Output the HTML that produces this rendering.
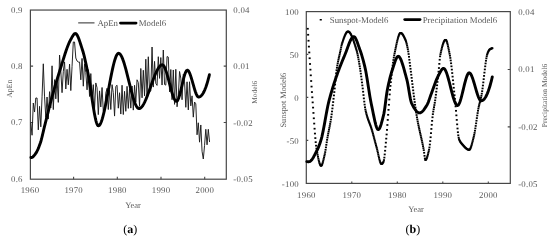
<!DOCTYPE html>
<html><head><meta charset="utf-8"><title>Figure</title>
<style>html,body{margin:0;padding:0;background:#fff;}svg{display:block;}</style>
</head><body>
<svg width="550" height="240" viewBox="0 0 550 240" text-rendering="geometricPrecision" font-family="'Liberation Serif', 'Times New Roman', serif" fill="#595959"><rect x="30.4" y="10.05" width="195.9" height="169.15" fill="none" stroke="#474747" stroke-width="1.2"/>
<path d="M73.6 179.2 V176.7 M117.3 179.2 V176.7 M161 179.2 V176.7 M204.7 179.2 V176.7 M30.4 122.52 H33.1 M30.4 66.13 H33.1 M226.3 122.52 H223.7 M226.3 66.13 H223.7" stroke="#474747" stroke-width="1.1" fill="none"/>
<text x="22.75" y="181.7" text-anchor="end" font-size="8.8" letter-spacing="0.25">0.6</text>
<text x="22.75" y="125.32" text-anchor="end" font-size="8.8" letter-spacing="0.25">0.7</text>
<text x="22.75" y="68.93" text-anchor="end" font-size="8.8" letter-spacing="0.25">0.8</text>
<text x="22.75" y="12.55" text-anchor="end" font-size="8.8" letter-spacing="0.25">0.9</text>
<text x="233.3" y="182.2" text-anchor="start" font-size="8.8" letter-spacing="0.25">-0.05</text>
<text x="233.3" y="125.82" text-anchor="start" font-size="8.8" letter-spacing="0.25">-0.02</text>
<text x="233.3" y="69.43" text-anchor="start" font-size="8.8" letter-spacing="0.25">0.01</text>
<text x="233.3" y="13.05" text-anchor="start" font-size="8.8" letter-spacing="0.25">0.04</text>
<text x="30.02" y="193" text-anchor="middle" font-size="8.8" letter-spacing="0.25">1960</text>
<text x="73.72" y="193" text-anchor="middle" font-size="8.8" letter-spacing="0.25">1970</text>
<text x="117.42" y="193" text-anchor="middle" font-size="8.8" letter-spacing="0.25">1980</text>
<text x="161.12" y="193" text-anchor="middle" font-size="8.8" letter-spacing="0.25">1990</text>
<text x="204.82" y="193" text-anchor="middle" font-size="8.8" letter-spacing="0.25">2000</text>
<text x="133" y="208" text-anchor="middle" font-size="8.5">Year</text>
<text transform="translate(11.6 88.7) rotate(-90)" text-anchor="middle" font-size="7.8">ApEn</text>
<text transform="translate(257.2 92.3) rotate(-90)" text-anchor="middle" font-size="7.3">Model6</text>
<path d="M30.8 122.45 L32.05 135.24 L33.3 103 L34.55 112.04 L35.8 98 L37.05 98 L38.3 129.87 L39.55 106.34 L40.8 126.88 L42.05 96.8 L43.3 63.8 L44.55 96.88 L45.8 117.51 L47.05 97.02 L48.3 119.09 L49.55 91.67 L50.8 107.92 L52.05 65.8 L53.3 109.58 L54.55 79.67 L55.8 98.84 L57.05 78.2 L58.3 102.39 L59.55 55 L60.8 71.22 L62.05 92.68 L63.3 71.27 L64.55 61.89 L65.8 89.01 L67.05 69.29 L68.3 84.85 L69.55 64.1 L70.8 90.59 L72.05 66.37 L73.3 42 L74.55 42 L75.8 58 L77.05 61 L78.3 62 L79.55 62 L80.8 79.82 L82.05 58.42 L83.3 86.19 L84.55 63.86 L85.8 72.38 L87.05 89.85 L88.3 69.68 L89.55 96.48 L90.8 73.59 L92.05 97.06 L93.3 84.65 L94.55 108.88 L95.8 82.95 L97.05 87.79 L98.3 114.63 L99.55 90.89 L100.8 106.98 L102.05 87.49 L103.3 111.18 L104.55 112.27 L105.8 93.23 L107.05 88.27 L108.3 109.52 L109.55 90.22 L110.8 109.47 L112.05 84.64 L113.3 92.62 L114.55 116.09 L115.8 86.4 L117.05 85.24 L118.3 108.19 L119.55 92.72 L120.8 114.05 L122.05 85.24 L123.3 114.53 L124.55 91.34 L125.8 111.3 L127.05 86.32 L128.3 108.42 L129.55 88.6 L130.8 108.12 L132.05 86.01 L133.3 110.11 L134.55 85.28 L135.8 102.04 L137.05 79.79 L138.3 82.53 L139.55 106.26 L140.8 68.47 L142.05 97.82 L143.3 70.25 L144.55 95.9 L145.8 59.19 L147.05 97.65 L148.3 56.75 L149.55 92.23 L150.8 90.65 L152.05 47 L153.3 87.09 L154.55 61.36 L155.8 83.43 L157.05 85.4 L158.3 56.71 L159.55 78.39 L160.8 57.54 L162.05 85.04 L163.3 50 L164.55 84.47 L165.8 85.1 L167.05 56.56 L168.3 57.1 L169.55 91.86 L170.8 69.53 L172.05 99.71 L173.3 69.97 L174.55 104.37 L175.8 69.29 L177.05 106.79 L178.3 95.9 L179.55 71.47 L180.8 78.14 L182.05 99.75 L183.3 74.33 L184.55 81.88 L185.8 107.31 L187.05 81.82 L188.3 109.93 L189.55 81.75 L190.8 105.88 L192.05 95.85 L193.3 117.15 L194.55 101.99 L195.8 103.8 L197.05 134.81 L198.3 122.79 L199.55 142.18 L200.8 124.97 L202.05 151.26 L203.3 159 L204.55 145.41 L205.8 129.26 L207.05 144.81 L208.3 129.31 L209.55 142.07" stroke="#1a1a1a" stroke-width="0.95" fill="none" stroke-linejoin="round"/>
<path d="M30.9 157.48 L31.4 157.5 L31.9 157.44 L32.4 157.22 L32.9 156.86 L33.4 156.38 L33.9 155.82 L34.4 155.2 L34.9 154.54 L35.4 153.88 L35.9 153.19 L36.4 152.39 L36.9 151.48 L37.4 150.47 L37.9 149.36 L38.4 148.18 L38.9 146.92 L39.4 145.6 L39.9 144.22 L40.4 142.79 L40.9 141.25 L41.4 139.46 L41.9 137.49 L42.4 135.4 L42.9 133.24 L43.4 131.06 L43.9 128.93 L44.4 126.9 L44.9 124.9 L45.4 122.9 L45.9 120.9 L46.4 118.9 L46.9 116.9 L47.4 114.9 L47.9 112.9 L48.4 110.89 L48.9 108.85 L49.4 106.81 L49.9 104.81 L50.4 102.88 L50.9 101.01 L51.4 99.16 L51.9 97.33 L52.4 95.51 L52.9 93.72 L53.4 91.94 L53.9 90.18 L54.4 88.43 L54.9 86.71 L55.4 84.99 L55.9 83.3 L56.4 81.62 L56.9 79.96 L57.4 78.31 L57.9 76.68 L58.4 75.07 L58.9 73.47 L59.4 71.88 L59.9 70.31 L60.4 68.74 L60.9 67.15 L61.4 65.55 L61.9 63.93 L62.4 62.31 L62.9 60.68 L63.4 59.06 L63.9 57.46 L64.4 55.86 L64.9 54.3 L65.4 52.76 L65.9 51.25 L66.4 49.79 L66.9 48.37 L67.4 47 L67.9 45.69 L68.4 44.44 L68.9 43.26 L69.4 42.15 L69.9 41.12 L70.4 40.18 L70.9 39.28 L71.4 38.35 L71.9 37.43 L72.4 36.53 L72.9 35.69 L73.4 34.95 L73.9 34.33 L74.4 33.86 L74.9 33.57 L75.4 33.51 L75.9 33.69 L76.4 34.11 L76.9 34.75 L77.4 35.58 L77.9 36.59 L78.4 37.75 L78.9 39.04 L79.4 40.43 L79.9 41.9 L80.4 43.43 L80.9 45 L81.4 46.58 L81.9 48.16 L82.4 49.7 L82.9 51.27 L83.4 53.02 L83.9 54.93 L84.4 56.97 L84.9 59.11 L85.4 61.33 L85.9 63.6 L86.4 65.89 L86.9 68.19 L87.4 70.46 L87.9 72.89 L88.4 75.55 L88.9 78.42 L89.4 81.45 L89.9 84.61 L90.4 87.87 L90.9 91.2 L91.4 94.55 L91.9 97.91 L92.4 101.22 L92.9 104.47 L93.4 107.6 L93.9 110.61 L94.4 113.43 L94.9 116.06 L95.4 118.44 L95.9 120.55 L96.4 122.35 L96.9 123.81 L97.4 124.89 L97.9 125.57 L98.4 125.8 L98.9 125.67 L99.4 125.28 L99.9 124.66 L100.4 123.81 L100.9 122.74 L101.4 121.48 L101.9 120.02 L102.4 118.4 L102.9 116.61 L103.4 114.67 L103.9 112.6 L104.4 110.41 L104.9 108.11 L105.4 105.72 L105.9 103.24 L106.4 100.69 L106.9 98.09 L107.4 95.45 L107.9 92.78 L108.4 90.09 L108.9 87.4 L109.4 84.72 L109.9 82.06 L110.4 79.44 L110.9 76.87 L111.4 74.37 L111.9 71.94 L112.4 69.6 L112.9 67.36 L113.4 65.24 L113.9 63.25 L114.4 61.4 L114.9 59.71 L115.4 58.18 L115.9 56.84 L116.4 55.69 L116.9 54.75 L117.4 54.04 L117.9 53.56 L118.4 53.32 L118.9 53.34 L119.4 53.55 L119.9 53.95 L120.4 54.52 L120.9 55.25 L121.4 56.14 L121.9 57.17 L122.4 58.34 L122.9 59.64 L123.4 61.04 L123.9 62.56 L124.4 64.17 L124.9 65.86 L125.4 67.64 L125.9 69.48 L126.4 71.37 L126.9 73.31 L127.4 75.29 L127.9 77.3 L128.4 79.32 L128.9 81.36 L129.4 83.39 L129.9 85.41 L130.4 87.4 L130.9 89.37 L131.4 91.29 L131.9 93.17 L132.4 94.98 L132.9 96.72 L133.4 98.39 L133.9 99.96 L134.4 101.43 L134.9 102.8 L135.4 104.04 L135.9 105.16 L136.4 106.13 L136.9 106.96 L137.4 107.63 L137.9 108.13 L138.4 108.46 L138.9 108.6 L139.4 108.56 L139.9 108.41 L140.4 108.14 L140.9 107.77 L141.4 107.3 L141.9 106.73 L142.4 106.07 L142.9 105.33 L143.4 104.5 L143.9 103.6 L144.4 102.63 L144.9 101.6 L145.4 100.5 L145.9 99.35 L146.4 98.15 L146.9 96.91 L147.4 95.63 L147.9 94.31 L148.4 92.97 L148.9 91.6 L149.4 90.21 L149.9 88.81 L150.4 87.4 L150.9 86 L151.4 84.59 L151.9 83.19 L152.4 81.8 L152.9 80.43 L153.4 79.09 L153.9 77.77 L154.4 76.49 L154.9 75.25 L155.4 74.05 L155.9 72.9 L156.4 71.8 L156.9 70.77 L157.4 69.8 L157.9 68.9 L158.4 68.07 L158.9 67.33 L159.4 66.67 L159.9 66.1 L160.4 65.63 L160.9 65.26 L161.4 64.99 L161.9 64.84 L162.4 64.81 L162.9 64.99 L163.4 65.42 L163.9 66.09 L164.4 66.96 L164.9 68.02 L165.4 69.26 L165.9 70.65 L166.4 72.17 L166.9 73.81 L167.4 75.54 L167.9 77.35 L168.4 79.22 L168.9 81.13 L169.4 83.05 L169.9 84.97 L170.4 86.88 L170.9 88.75 L171.4 90.56 L171.9 92.29 L172.4 93.93 L172.9 95.45 L173.4 96.84 L173.9 98.08 L174.4 99.14 L174.9 100.01 L175.4 100.68 L175.9 101.11 L176.4 101.29 L176.9 101.18 L177.4 100.69 L177.9 99.87 L178.4 98.75 L178.9 97.38 L179.4 95.78 L179.9 93.99 L180.4 92.06 L180.9 90.02 L181.4 87.9 L181.9 85.75 L182.4 83.6 L182.9 81.48 L183.4 79.44 L183.9 77.51 L184.4 75.72 L184.9 74.12 L185.4 72.75 L185.9 71.63 L186.4 70.81 L186.9 70.32 L187.4 70.21 L187.9 70.42 L188.4 70.91 L188.9 71.66 L189.4 72.63 L189.9 73.8 L190.4 75.14 L190.9 76.63 L191.4 78.22 L191.9 79.91 L192.4 81.65 L192.9 83.42 L193.4 85.2 L193.9 86.95 L194.4 88.65 L194.9 90.26 L195.4 91.77 L195.9 93.14 L196.4 94.35 L196.9 95.36 L197.4 96.16 L197.9 96.7 L198.4 96.98 L198.9 96.98 L199.4 96.88 L199.9 96.69 L200.4 96.41 L200.9 96.03 L201.4 95.55 L201.9 94.99 L202.4 94.33 L202.9 93.57 L203.4 92.71 L203.9 91.76 L204.4 90.71 L204.9 89.57 L205.4 88.32 L205.9 86.98 L206.4 85.53 L206.9 83.99 L207.4 82.34 L207.9 80.59 L208.4 78.74 L208.9 76.78 L209.4 74.72" stroke="#000" stroke-width="2.9" fill="none" stroke-linejoin="round" stroke-linecap="round"/>
<path d="M78.2 22.9 H94.5" stroke="#2a2a2a" stroke-width="1"/>
<text x="97.4" y="25.9" text-anchor="start" font-size="8.8">ApEn</text>
<path d="M120.5 23.1 H136" stroke="#000" stroke-width="2.9" stroke-linecap="round"/>
<text x="138.8" y="25.9" text-anchor="start" font-size="8.8">Model6</text>
<text x="130.3" y="233" text-anchor="middle" font-size="12" fill="#000">(<tspan font-weight="bold">a</tspan>)</text>
<rect x="306.3" y="11.6" width="204" height="171.8" fill="none" stroke="#474747" stroke-width="1.2"/>
<path d="M351.8 183.4 V181.4 M397.3 183.4 V181.4 M442.8 183.4 V181.4 M488.3 183.4 V181.4 M306.3 140.4 H308.3 M306.3 97.4 H308.3 M306.3 54.4 H308.3 M510.3 126.83 H507.7 M510.3 69.57 H507.7" stroke="#474747" stroke-width="1.1" fill="none"/>
<text x="298.95" y="187.2" text-anchor="end" font-size="8.8" letter-spacing="0.25">-100</text>
<text x="298.95" y="144.2" text-anchor="end" font-size="8.8" letter-spacing="0.25">-50</text>
<text x="298.95" y="101.2" text-anchor="end" font-size="8.8" letter-spacing="0.25">0</text>
<text x="298.95" y="58.2" text-anchor="end" font-size="8.8" letter-spacing="0.25">50</text>
<text x="298.95" y="15.2" text-anchor="end" font-size="8.8" letter-spacing="0.25">100</text>
<text x="518.2" y="186.8" text-anchor="start" font-size="8.8" letter-spacing="0.25">-0.05</text>
<text x="518.2" y="129.53" text-anchor="start" font-size="8.8" letter-spacing="0.25">-0.02</text>
<text x="518.2" y="72.27" text-anchor="start" font-size="8.8" letter-spacing="0.25">0.01</text>
<text x="518.2" y="15" text-anchor="start" font-size="8.8" letter-spacing="0.25">0.04</text>
<text x="306.42" y="198" text-anchor="middle" font-size="8.8" letter-spacing="0.25">1960</text>
<text x="351.92" y="198" text-anchor="middle" font-size="8.8" letter-spacing="0.25">1970</text>
<text x="397.42" y="198" text-anchor="middle" font-size="8.8" letter-spacing="0.25">1980</text>
<text x="442.92" y="198" text-anchor="middle" font-size="8.8" letter-spacing="0.25">1990</text>
<text x="488.42" y="198" text-anchor="middle" font-size="8.8" letter-spacing="0.25">2000</text>
<text x="416" y="212" text-anchor="middle" font-size="8.5">Year</text>
<text transform="translate(286.3 100.2) rotate(-90)" text-anchor="middle" font-size="8.3">Sunspot Model6</text>
<text transform="translate(547.2 95.5) rotate(-90)" text-anchor="middle" font-size="7.5">Precipitation Model6</text>
<g fill="#000"><rect x="306.75" y="27.9" width="2" height="1.7"/><rect x="307.13" y="33.91" width="2" height="1.7"/><rect x="307.51" y="39.87" width="2" height="1.7"/><rect x="307.89" y="45.77" width="2" height="1.7"/><rect x="308.27" y="51.61" width="2" height="1.7"/><rect x="308.65" y="57.4" width="2" height="1.7"/><rect x="309.02" y="63.13" width="2" height="1.7"/><rect x="309.4" y="68.81" width="2" height="1.7"/><rect x="309.78" y="74.48" width="2" height="1.7"/><rect x="310.16" y="80.15" width="2" height="1.7"/><rect x="310.54" y="85.74" width="2" height="1.7"/><rect x="310.92" y="91.2" width="2" height="1.7"/><rect x="311.3" y="96.47" width="2" height="1.7"/><rect x="311.68" y="101.54" width="2" height="1.7"/><rect x="312.06" y="106.75" width="2" height="1.7"/><rect x="312.44" y="112.08" width="2" height="1.7"/><rect x="312.82" y="117.44" width="2" height="1.7"/><rect x="313.2" y="122.72" width="2" height="1.7"/><rect x="313.57" y="127.85" width="2" height="1.7"/><rect x="313.95" y="132.71" width="2" height="1.7"/><rect x="314.33" y="137.23" width="2" height="1.7"/><rect x="314.71" y="141.3" width="2" height="1.7"/><rect x="315.09" y="144.84" width="2" height="1.7"/><rect x="315.47" y="147.74" width="2" height="1.7"/><rect x="315.85" y="149.98" width="2" height="1.7"/><rect x="316.23" y="152.05" width="2" height="1.7"/><rect x="316.61" y="154.06" width="2" height="1.7"/><rect x="316.99" y="155.99" width="2" height="1.7"/><rect x="317.37" y="157.8" width="2" height="1.7"/><rect x="317.75" y="159.47" width="2" height="1.7"/><rect x="318.12" y="160.96" width="2" height="1.7"/><rect x="318.5" y="162.27" width="2" height="1.7"/><rect x="318.88" y="163.34" width="2" height="1.7"/><rect x="319.26" y="164.17" width="2" height="1.7"/><rect x="319.64" y="164.71" width="2" height="1.7"/><rect x="320.02" y="164.94" width="2" height="1.7"/><rect x="320.4" y="164.82" width="2" height="1.7"/><rect x="320.78" y="164.33" width="2" height="1.7"/><rect x="321.16" y="163.51" width="2" height="1.7"/><rect x="321.54" y="162.42" width="2" height="1.7"/><rect x="321.92" y="161.12" width="2" height="1.7"/><rect x="322.3" y="159.66" width="2" height="1.7"/><rect x="322.67" y="158.09" width="2" height="1.7"/><rect x="323.05" y="156.47" width="2" height="1.7"/><rect x="323.43" y="154.85" width="2" height="1.7"/><rect x="323.81" y="153.2" width="2" height="1.7"/><rect x="324.19" y="151.23" width="2" height="1.7"/><rect x="324.57" y="148.97" width="2" height="1.7"/><rect x="324.95" y="146.53" width="2" height="1.7"/><rect x="325.33" y="143.99" width="2" height="1.7"/><rect x="325.71" y="141.45" width="2" height="1.7"/><rect x="326.09" y="139.02" width="2" height="1.7"/><rect x="326.47" y="136.77" width="2" height="1.7"/><rect x="326.85" y="134.7" width="2" height="1.7"/><rect x="327.22" y="132.73" width="2" height="1.7"/><rect x="327.6" y="130.82" width="2" height="1.7"/><rect x="327.98" y="128.94" width="2" height="1.7"/><rect x="328.36" y="127.06" width="2" height="1.7"/><rect x="328.74" y="125.12" width="2" height="1.7"/><rect x="329.12" y="123.1" width="2" height="1.7"/><rect x="329.5" y="120.97" width="2" height="1.7"/><rect x="329.88" y="118.67" width="2" height="1.7"/><rect x="330.26" y="116.18" width="2" height="1.7"/><rect x="330.64" y="113.49" width="2" height="1.7"/><rect x="331.02" y="110.61" width="2" height="1.7"/><rect x="331.4" y="107.59" width="2" height="1.7"/><rect x="331.77" y="104.45" width="2" height="1.7"/><rect x="332.15" y="101.21" width="2" height="1.7"/><rect x="332.53" y="97.91" width="2" height="1.7"/><rect x="332.91" y="94.57" width="2" height="1.7"/><rect x="333.29" y="91.22" width="2" height="1.7"/><rect x="333.67" y="87.66" width="2" height="1.7"/><rect x="334.05" y="83.77" width="2" height="1.7"/><rect x="334.43" y="79.78" width="2" height="1.7"/><rect x="334.81" y="75.9" width="2" height="1.7"/><rect x="335.19" y="72.36" width="2" height="1.7"/><rect x="335.57" y="69.38" width="2" height="1.7"/><rect x="335.95" y="66.91" width="2" height="1.7"/><rect x="336.32" y="64.65" width="2" height="1.7"/><rect x="336.7" y="62.56" width="2" height="1.7"/><rect x="337.08" y="60.62" width="2" height="1.7"/><rect x="337.46" y="58.79" width="2" height="1.7"/><rect x="337.84" y="57.05" width="2" height="1.7"/><rect x="338.22" y="55.36" width="2" height="1.7"/><rect x="338.6" y="53.69" width="2" height="1.7"/><rect x="338.98" y="52.01" width="2" height="1.7"/><rect x="339.36" y="50.28" width="2" height="1.7"/><rect x="339.74" y="48.48" width="2" height="1.7"/><rect x="340.12" y="46.55" width="2" height="1.7"/><rect x="340.5" y="44.71" width="2" height="1.7"/><rect x="340.87" y="43.23" width="2" height="1.7"/><rect x="341.25" y="42.06" width="2" height="1.7"/><rect x="341.63" y="40.89" width="2" height="1.7"/><rect x="342.01" y="39.75" width="2" height="1.7"/><rect x="342.39" y="38.64" width="2" height="1.7"/><rect x="342.77" y="37.56" width="2" height="1.7"/><rect x="343.15" y="36.53" width="2" height="1.7"/><rect x="343.53" y="35.55" width="2" height="1.7"/><rect x="343.91" y="34.64" width="2" height="1.7"/><rect x="344.29" y="33.79" width="2" height="1.7"/><rect x="344.67" y="33.03" width="2" height="1.7"/><rect x="345.05" y="32.36" width="2" height="1.7"/><rect x="345.42" y="31.79" width="2" height="1.7"/><rect x="345.8" y="31.32" width="2" height="1.7"/><rect x="346.18" y="30.97" width="2" height="1.7"/><rect x="346.56" y="30.74" width="2" height="1.7"/><rect x="346.94" y="30.65" width="2" height="1.7"/><rect x="347.32" y="30.69" width="2" height="1.7"/><rect x="347.7" y="30.83" width="2" height="1.7"/><rect x="348.08" y="31.08" width="2" height="1.7"/><rect x="348.46" y="31.42" width="2" height="1.7"/><rect x="348.84" y="31.86" width="2" height="1.7"/><rect x="349.22" y="32.38" width="2" height="1.7"/><rect x="349.6" y="32.98" width="2" height="1.7"/><rect x="349.97" y="33.66" width="2" height="1.7"/><rect x="350.35" y="34.41" width="2" height="1.7"/><rect x="350.73" y="35.23" width="2" height="1.7"/><rect x="351.11" y="36.11" width="2" height="1.7"/><rect x="351.49" y="37.05" width="2" height="1.7"/><rect x="351.87" y="38.04" width="2" height="1.7"/><rect x="352.25" y="39.07" width="2" height="1.7"/><rect x="352.63" y="40.15" width="2" height="1.7"/><rect x="353.01" y="41.27" width="2" height="1.7"/><rect x="353.39" y="42.41" width="2" height="1.7"/><rect x="353.77" y="43.58" width="2" height="1.7"/><rect x="354.15" y="44.78" width="2" height="1.7"/><rect x="354.52" y="45.99" width="2" height="1.7"/><rect x="354.9" y="47.21" width="2" height="1.7"/><rect x="355.28" y="48.45" width="2" height="1.7"/><rect x="355.66" y="49.7" width="2" height="1.7"/><rect x="356.04" y="51.13" width="2" height="1.7"/><rect x="356.42" y="52.76" width="2" height="1.7"/><rect x="356.8" y="54.56" width="2" height="1.7"/><rect x="357.18" y="56.51" width="2" height="1.7"/><rect x="357.56" y="58.58" width="2" height="1.7"/><rect x="357.94" y="60.77" width="2" height="1.7"/><rect x="358.32" y="63.04" width="2" height="1.7"/><rect x="358.7" y="65.36" width="2" height="1.7"/><rect x="359.07" y="67.73" width="2" height="1.7"/><rect x="359.45" y="70.15" width="2" height="1.7"/><rect x="359.83" y="72.79" width="2" height="1.7"/><rect x="360.21" y="75.64" width="2" height="1.7"/><rect x="360.59" y="78.6" width="2" height="1.7"/><rect x="360.97" y="81.59" width="2" height="1.7"/><rect x="361.35" y="84.53" width="2" height="1.7"/><rect x="361.73" y="87.6" width="2" height="1.7"/><rect x="362.11" y="90.86" width="2" height="1.7"/><rect x="362.49" y="94.21" width="2" height="1.7"/><rect x="362.87" y="97.54" width="2" height="1.7"/><rect x="363.25" y="100.75" width="2" height="1.7"/><rect x="363.62" y="103.73" width="2" height="1.7"/><rect x="364" y="106.37" width="2" height="1.7"/><rect x="364.38" y="108.58" width="2" height="1.7"/><rect x="364.76" y="110.34" width="2" height="1.7"/><rect x="365.14" y="111.95" width="2" height="1.7"/><rect x="365.52" y="113.43" width="2" height="1.7"/><rect x="365.9" y="114.79" width="2" height="1.7"/><rect x="366.28" y="116.06" width="2" height="1.7"/><rect x="366.66" y="117.24" width="2" height="1.7"/><rect x="367.04" y="118.36" width="2" height="1.7"/><rect x="367.42" y="119.41" width="2" height="1.7"/><rect x="367.8" y="120.43" width="2" height="1.7"/><rect x="368.17" y="121.43" width="2" height="1.7"/><rect x="368.55" y="122.41" width="2" height="1.7"/><rect x="368.93" y="123.4" width="2" height="1.7"/><rect x="369.31" y="124.4" width="2" height="1.7"/><rect x="369.69" y="125.44" width="2" height="1.7"/><rect x="370.07" y="126.53" width="2" height="1.7"/><rect x="370.45" y="127.68" width="2" height="1.7"/><rect x="370.83" y="128.91" width="2" height="1.7"/><rect x="371.21" y="130.21" width="2" height="1.7"/><rect x="371.59" y="131.56" width="2" height="1.7"/><rect x="371.97" y="132.94" width="2" height="1.7"/><rect x="372.35" y="134.34" width="2" height="1.7"/><rect x="372.72" y="135.77" width="2" height="1.7"/><rect x="373.1" y="137.2" width="2" height="1.7"/><rect x="373.48" y="138.65" width="2" height="1.7"/><rect x="373.86" y="140.09" width="2" height="1.7"/><rect x="374.24" y="141.53" width="2" height="1.7"/><rect x="374.62" y="142.95" width="2" height="1.7"/><rect x="375" y="144.35" width="2" height="1.7"/><rect x="375.38" y="145.72" width="2" height="1.7"/><rect x="375.76" y="147.1" width="2" height="1.7"/><rect x="376.14" y="148.63" width="2" height="1.7"/><rect x="376.52" y="150.26" width="2" height="1.7"/><rect x="376.9" y="151.96" width="2" height="1.7"/><rect x="377.27" y="153.67" width="2" height="1.7"/><rect x="377.65" y="155.37" width="2" height="1.7"/><rect x="378.03" y="157" width="2" height="1.7"/><rect x="378.41" y="158.53" width="2" height="1.7"/><rect x="378.79" y="159.91" width="2" height="1.7"/><rect x="379.17" y="161.1" width="2" height="1.7"/><rect x="379.55" y="162.06" width="2" height="1.7"/><rect x="379.93" y="162.74" width="2" height="1.7"/><rect x="380.31" y="163.1" width="2" height="1.7"/><rect x="380.69" y="163.12" width="2" height="1.7"/><rect x="381.07" y="162.93" width="2" height="1.7"/><rect x="381.45" y="162.57" width="2" height="1.7"/><rect x="381.82" y="162.06" width="2" height="1.7"/><rect x="382.2" y="161.44" width="2" height="1.7"/><rect x="382.58" y="160.71" width="2" height="1.7"/><rect x="382.96" y="159.2" width="2" height="1.7"/><rect x="383.34" y="156.75" width="2" height="1.7"/><rect x="383.72" y="153.58" width="2" height="1.7"/><rect x="384.1" y="149.89" width="2" height="1.7"/><rect x="384.48" y="145.89" width="2" height="1.7"/><rect x="384.86" y="141.78" width="2" height="1.7"/><rect x="385.24" y="137.78" width="2" height="1.7"/><rect x="385.62" y="133.64" width="2" height="1.7"/><rect x="386" y="129.05" width="2" height="1.7"/><rect x="386.37" y="124.13" width="2" height="1.7"/><rect x="386.75" y="119.05" width="2" height="1.7"/><rect x="387.13" y="113.95" width="2" height="1.7"/><rect x="387.51" y="108.99" width="2" height="1.7"/><rect x="387.89" y="103.92" width="2" height="1.7"/><rect x="388.27" y="98.67" width="2" height="1.7"/><rect x="388.65" y="93.58" width="2" height="1.7"/><rect x="389.03" y="88.98" width="2" height="1.7"/><rect x="389.41" y="85.05" width="2" height="1.7"/><rect x="389.79" y="81.31" width="2" height="1.7"/><rect x="390.17" y="77.68" width="2" height="1.7"/><rect x="390.55" y="74.19" width="2" height="1.7"/><rect x="390.92" y="70.85" width="2" height="1.7"/><rect x="391.3" y="67.66" width="2" height="1.7"/><rect x="391.68" y="64.64" width="2" height="1.7"/><rect x="392.06" y="61.8" width="2" height="1.7"/><rect x="392.44" y="59.16" width="2" height="1.7"/><rect x="392.82" y="56.73" width="2" height="1.7"/><rect x="393.2" y="54.53" width="2" height="1.7"/><rect x="393.58" y="52.55" width="2" height="1.7"/><rect x="393.96" y="50.7" width="2" height="1.7"/><rect x="394.34" y="48.85" width="2" height="1.7"/><rect x="394.72" y="47.01" width="2" height="1.7"/><rect x="395.1" y="45.19" width="2" height="1.7"/><rect x="395.47" y="43.42" width="2" height="1.7"/><rect x="395.85" y="41.71" width="2" height="1.7"/><rect x="396.23" y="40.09" width="2" height="1.7"/><rect x="396.61" y="38.56" width="2" height="1.7"/><rect x="396.99" y="37.15" width="2" height="1.7"/><rect x="397.37" y="35.88" width="2" height="1.7"/><rect x="397.75" y="34.76" width="2" height="1.7"/><rect x="398.13" y="33.81" width="2" height="1.7"/><rect x="398.51" y="33.04" width="2" height="1.7"/><rect x="398.89" y="32.48" width="2" height="1.7"/><rect x="399.27" y="32.15" width="2" height="1.7"/><rect x="399.65" y="32.05" width="2" height="1.7"/><rect x="400.02" y="32.13" width="2" height="1.7"/><rect x="400.4" y="32.31" width="2" height="1.7"/><rect x="400.78" y="32.61" width="2" height="1.7"/><rect x="401.16" y="33" width="2" height="1.7"/><rect x="401.54" y="33.47" width="2" height="1.7"/><rect x="401.92" y="34.02" width="2" height="1.7"/><rect x="402.3" y="34.65" width="2" height="1.7"/><rect x="402.68" y="35.33" width="2" height="1.7"/><rect x="403.06" y="36.06" width="2" height="1.7"/><rect x="403.44" y="36.84" width="2" height="1.7"/><rect x="403.82" y="37.64" width="2" height="1.7"/><rect x="404.2" y="38.47" width="2" height="1.7"/><rect x="404.57" y="39.32" width="2" height="1.7"/><rect x="404.95" y="40.36" width="2" height="1.7"/><rect x="405.33" y="41.63" width="2" height="1.7"/><rect x="405.71" y="43.1" width="2" height="1.7"/><rect x="406.09" y="44.74" width="2" height="1.7"/><rect x="406.47" y="46.52" width="2" height="1.7"/><rect x="406.85" y="48.42" width="2" height="1.7"/><rect x="407.23" y="50.63" width="2" height="1.7"/><rect x="407.61" y="53.17" width="2" height="1.7"/><rect x="407.99" y="55.95" width="2" height="1.7"/><rect x="408.37" y="58.91" width="2" height="1.7"/><rect x="408.75" y="61.95" width="2" height="1.7"/><rect x="409.12" y="64.98" width="2" height="1.7"/><rect x="409.5" y="67.93" width="2" height="1.7"/><rect x="409.88" y="70.87" width="2" height="1.7"/><rect x="410.26" y="73.89" width="2" height="1.7"/><rect x="410.64" y="76.98" width="2" height="1.7"/><rect x="411.02" y="80.11" width="2" height="1.7"/><rect x="411.4" y="83.25" width="2" height="1.7"/><rect x="411.78" y="86.39" width="2" height="1.7"/><rect x="412.16" y="89.49" width="2" height="1.7"/><rect x="412.54" y="92.54" width="2" height="1.7"/><rect x="412.92" y="95.52" width="2" height="1.7"/><rect x="413.3" y="98.38" width="2" height="1.7"/><rect x="413.67" y="101.16" width="2" height="1.7"/><rect x="414.05" y="103.91" width="2" height="1.7"/><rect x="414.43" y="106.61" width="2" height="1.7"/><rect x="414.81" y="109.24" width="2" height="1.7"/><rect x="415.19" y="111.77" width="2" height="1.7"/><rect x="415.57" y="114.18" width="2" height="1.7"/><rect x="415.95" y="116.44" width="2" height="1.7"/><rect x="416.33" y="118.57" width="2" height="1.7"/><rect x="416.71" y="120.6" width="2" height="1.7"/><rect x="417.09" y="122.55" width="2" height="1.7"/><rect x="417.47" y="124.42" width="2" height="1.7"/><rect x="417.85" y="126.23" width="2" height="1.7"/><rect x="418.22" y="127.99" width="2" height="1.7"/><rect x="418.6" y="129.71" width="2" height="1.7"/><rect x="418.98" y="131.4" width="2" height="1.7"/><rect x="419.36" y="133.07" width="2" height="1.7"/><rect x="419.74" y="134.74" width="2" height="1.7"/><rect x="420.12" y="136.41" width="2" height="1.7"/><rect x="420.5" y="138.11" width="2" height="1.7"/><rect x="420.88" y="139.83" width="2" height="1.7"/><rect x="421.26" y="141.59" width="2" height="1.7"/><rect x="421.64" y="143.41" width="2" height="1.7"/><rect x="422.02" y="145.29" width="2" height="1.7"/><rect x="422.4" y="147.24" width="2" height="1.7"/><rect x="422.77" y="149.29" width="2" height="1.7"/><rect x="423.15" y="151.92" width="2" height="1.7"/><rect x="423.53" y="154.96" width="2" height="1.7"/><rect x="423.91" y="157.6" width="2" height="1.7"/><rect x="424.29" y="159.06" width="2" height="1.7"/><rect x="424.67" y="159.07" width="2" height="1.7"/><rect x="425.05" y="158.7" width="2" height="1.7"/><rect x="425.43" y="158.06" width="2" height="1.7"/><rect x="425.81" y="157.18" width="2" height="1.7"/><rect x="426.19" y="156.1" width="2" height="1.7"/><rect x="426.57" y="154.84" width="2" height="1.7"/><rect x="426.95" y="153.46" width="2" height="1.7"/><rect x="427.32" y="151.96" width="2" height="1.7"/><rect x="427.7" y="150.4" width="2" height="1.7"/><rect x="428.08" y="148.78" width="2" height="1.7"/><rect x="428.46" y="146.58" width="2" height="1.7"/><rect x="428.84" y="143.68" width="2" height="1.7"/><rect x="429.22" y="140.23" width="2" height="1.7"/><rect x="429.6" y="136.38" width="2" height="1.7"/><rect x="429.98" y="132.28" width="2" height="1.7"/><rect x="430.36" y="128.08" width="2" height="1.7"/><rect x="430.74" y="123.94" width="2" height="1.7"/><rect x="431.12" y="120" width="2" height="1.7"/><rect x="431.5" y="116.41" width="2" height="1.7"/><rect x="431.87" y="113.33" width="2" height="1.7"/><rect x="432.25" y="110.75" width="2" height="1.7"/><rect x="432.63" y="108.45" width="2" height="1.7"/><rect x="433.01" y="106.3" width="2" height="1.7"/><rect x="433.39" y="104.17" width="2" height="1.7"/><rect x="433.77" y="101.95" width="2" height="1.7"/><rect x="434.15" y="99.5" width="2" height="1.7"/><rect x="434.53" y="96.78" width="2" height="1.7"/><rect x="434.91" y="93.89" width="2" height="1.7"/><rect x="435.29" y="90.85" width="2" height="1.7"/><rect x="435.67" y="87.69" width="2" height="1.7"/><rect x="436.05" y="84.42" width="2" height="1.7"/><rect x="436.42" y="81.08" width="2" height="1.7"/><rect x="436.8" y="77.68" width="2" height="1.7"/><rect x="437.18" y="74.25" width="2" height="1.7"/><rect x="437.56" y="70.8" width="2" height="1.7"/><rect x="437.94" y="67.17" width="2" height="1.7"/><rect x="438.32" y="63" width="2" height="1.7"/><rect x="438.7" y="58.89" width="2" height="1.7"/><rect x="439.08" y="55.51" width="2" height="1.7"/><rect x="439.46" y="53.38" width="2" height="1.7"/><rect x="439.84" y="51.59" width="2" height="1.7"/><rect x="440.22" y="49.88" width="2" height="1.7"/><rect x="440.6" y="48.25" width="2" height="1.7"/><rect x="440.97" y="46.72" width="2" height="1.7"/><rect x="441.35" y="45.3" width="2" height="1.7"/><rect x="441.73" y="44" width="2" height="1.7"/><rect x="442.11" y="42.82" width="2" height="1.7"/><rect x="442.49" y="41.78" width="2" height="1.7"/><rect x="442.87" y="40.89" width="2" height="1.7"/><rect x="443.25" y="40.15" width="2" height="1.7"/><rect x="443.63" y="39.58" width="2" height="1.7"/><rect x="444.01" y="39.19" width="2" height="1.7"/><rect x="444.39" y="38.98" width="2" height="1.7"/><rect x="444.77" y="38.99" width="2" height="1.7"/><rect x="445.15" y="39.34" width="2" height="1.7"/><rect x="445.52" y="40.04" width="2" height="1.7"/><rect x="445.9" y="41.03" width="2" height="1.7"/><rect x="446.28" y="42.28" width="2" height="1.7"/><rect x="446.66" y="43.75" width="2" height="1.7"/><rect x="447.04" y="45.4" width="2" height="1.7"/><rect x="447.42" y="47.18" width="2" height="1.7"/><rect x="447.8" y="49.06" width="2" height="1.7"/><rect x="448.18" y="50.98" width="2" height="1.7"/><rect x="448.56" y="52.92" width="2" height="1.7"/><rect x="448.94" y="54.87" width="2" height="1.7"/><rect x="449.32" y="57.08" width="2" height="1.7"/><rect x="449.7" y="59.61" width="2" height="1.7"/><rect x="450.07" y="62.42" width="2" height="1.7"/><rect x="450.45" y="65.48" width="2" height="1.7"/><rect x="450.83" y="68.75" width="2" height="1.7"/><rect x="451.21" y="72.19" width="2" height="1.7"/><rect x="451.59" y="75.76" width="2" height="1.7"/><rect x="451.97" y="79.43" width="2" height="1.7"/><rect x="452.35" y="83.16" width="2" height="1.7"/><rect x="452.73" y="86.91" width="2" height="1.7"/><rect x="453.11" y="90.64" width="2" height="1.7"/><rect x="453.49" y="94.33" width="2" height="1.7"/><rect x="453.87" y="97.92" width="2" height="1.7"/><rect x="454.25" y="101.53" width="2" height="1.7"/><rect x="454.62" y="105.57" width="2" height="1.7"/><rect x="455" y="109.95" width="2" height="1.7"/><rect x="455.38" y="114.5" width="2" height="1.7"/><rect x="455.76" y="119.07" width="2" height="1.7"/><rect x="456.14" y="123.5" width="2" height="1.7"/><rect x="456.52" y="127.65" width="2" height="1.7"/><rect x="456.9" y="131.35" width="2" height="1.7"/><rect x="457.28" y="134.45" width="2" height="1.7"/><rect x="457.66" y="136.8" width="2" height="1.7"/><rect x="458.04" y="138.25" width="2" height="1.7"/><rect x="458.42" y="139.21" width="2" height="1.7"/><rect x="458.8" y="140.03" width="2" height="1.7"/><rect x="459.17" y="140.73" width="2" height="1.7"/><rect x="459.55" y="141.34" width="2" height="1.7"/><rect x="459.93" y="141.87" width="2" height="1.7"/><rect x="460.31" y="142.35" width="2" height="1.7"/><rect x="460.69" y="142.8" width="2" height="1.7"/><rect x="461.07" y="143.23" width="2" height="1.7"/><rect x="461.45" y="143.67" width="2" height="1.7"/><rect x="461.83" y="144.1" width="2" height="1.7"/><rect x="462.21" y="144.54" width="2" height="1.7"/><rect x="462.59" y="144.97" width="2" height="1.7"/><rect x="462.97" y="145.4" width="2" height="1.7"/><rect x="463.35" y="145.81" width="2" height="1.7"/><rect x="463.72" y="146.21" width="2" height="1.7"/><rect x="464.1" y="146.6" width="2" height="1.7"/><rect x="464.48" y="146.97" width="2" height="1.7"/><rect x="464.86" y="147.31" width="2" height="1.7"/><rect x="465.24" y="147.63" width="2" height="1.7"/><rect x="465.62" y="147.93" width="2" height="1.7"/><rect x="466" y="148.19" width="2" height="1.7"/><rect x="466.38" y="148.42" width="2" height="1.7"/><rect x="466.76" y="148.61" width="2" height="1.7"/><rect x="467.14" y="148.76" width="2" height="1.7"/><rect x="467.52" y="148.87" width="2" height="1.7"/><rect x="467.9" y="148.93" width="2" height="1.7"/><rect x="468.27" y="148.94" width="2" height="1.7"/><rect x="468.65" y="148.75" width="2" height="1.7"/><rect x="469.03" y="148.29" width="2" height="1.7"/><rect x="469.41" y="147.6" width="2" height="1.7"/><rect x="469.79" y="146.7" width="2" height="1.7"/><rect x="470.17" y="145.63" width="2" height="1.7"/><rect x="470.55" y="144.42" width="2" height="1.7"/><rect x="470.93" y="143.08" width="2" height="1.7"/><rect x="471.31" y="141.66" width="2" height="1.7"/><rect x="471.69" y="140.18" width="2" height="1.7"/><rect x="472.07" y="138.66" width="2" height="1.7"/><rect x="472.45" y="137.15" width="2" height="1.7"/><rect x="472.82" y="135.65" width="2" height="1.7"/><rect x="473.2" y="134" width="2" height="1.7"/><rect x="473.58" y="132.07" width="2" height="1.7"/><rect x="473.96" y="129.9" width="2" height="1.7"/><rect x="474.34" y="127.55" width="2" height="1.7"/><rect x="474.72" y="125.06" width="2" height="1.7"/><rect x="475.1" y="122.48" width="2" height="1.7"/><rect x="475.48" y="119.86" width="2" height="1.7"/><rect x="475.86" y="117.24" width="2" height="1.7"/><rect x="476.24" y="114.68" width="2" height="1.7"/><rect x="476.62" y="112.22" width="2" height="1.7"/><rect x="477" y="109.91" width="2" height="1.7"/><rect x="477.37" y="107.79" width="2" height="1.7"/><rect x="477.75" y="105.92" width="2" height="1.7"/><rect x="478.13" y="104.25" width="2" height="1.7"/><rect x="478.51" y="102.73" width="2" height="1.7"/><rect x="478.89" y="101.28" width="2" height="1.7"/><rect x="479.27" y="99.84" width="2" height="1.7"/><rect x="479.65" y="98.34" width="2" height="1.7"/><rect x="480.03" y="96.72" width="2" height="1.7"/><rect x="480.41" y="94.91" width="2" height="1.7"/><rect x="480.79" y="92.79" width="2" height="1.7"/><rect x="481.17" y="90.33" width="2" height="1.7"/><rect x="481.55" y="87.6" width="2" height="1.7"/><rect x="481.92" y="84.65" width="2" height="1.7"/><rect x="482.3" y="81.54" width="2" height="1.7"/><rect x="482.68" y="78.31" width="2" height="1.7"/><rect x="483.06" y="75.04" width="2" height="1.7"/><rect x="483.44" y="71.78" width="2" height="1.7"/><rect x="483.82" y="68.58" width="2" height="1.7"/><rect x="484.2" y="65.49" width="2" height="1.7"/><rect x="484.58" y="62.59" width="2" height="1.7"/><rect x="484.96" y="59.92" width="2" height="1.7"/><rect x="485.34" y="57.54" width="2" height="1.7"/><rect x="485.72" y="55.51" width="2" height="1.7"/><rect x="486.1" y="53.88" width="2" height="1.7"/><rect x="486.47" y="52.7" width="2" height="1.7"/><rect x="486.85" y="51.73" width="2" height="1.7"/><rect x="487.23" y="50.86" width="2" height="1.7"/><rect x="487.61" y="50.09" width="2" height="1.7"/><rect x="487.99" y="49.45" width="2" height="1.7"/><rect x="488.37" y="48.95" width="2" height="1.7"/><rect x="488.75" y="48.61" width="2" height="1.7"/><rect x="489.13" y="48.35" width="2" height="1.7"/><rect x="489.51" y="48.1" width="2" height="1.7"/><rect x="489.89" y="47.88" width="2" height="1.7"/><rect x="490.27" y="47.69" width="2" height="1.7"/><rect x="490.65" y="47.55" width="2" height="1.7"/><rect x="491.02" y="47.45" width="2" height="1.7"/><rect x="491.4" y="47.4" width="2" height="1.7"/></g>
<path d="M306.8 161.63 L307.3 161.67 L307.8 161.69 L308.3 161.7 L308.8 161.7 L309.3 161.67 L309.8 161.52 L310.3 161.24 L310.8 160.84 L311.3 160.33 L311.8 159.72 L312.3 159.03 L312.8 158.27 L313.3 157.44 L313.8 156.56 L314.3 155.64 L314.8 154.68 L315.3 153.71 L315.8 152.73 L316.3 151.75 L316.8 150.78 L317.3 149.82 L317.8 148.77 L318.3 147.63 L318.8 146.41 L319.3 145.09 L319.8 143.7 L320.3 142.21 L320.8 140.65 L321.3 138.97 L321.8 137.06 L322.3 134.93 L322.8 132.62 L323.3 130.15 L323.8 127.56 L324.3 124.87 L324.8 122.12 L325.3 119.34 L325.8 116.56 L326.3 113.81 L326.8 111.12 L327.3 108.52 L327.8 106.04 L328.3 103.71 L328.8 101.56 L329.3 99.63 L329.8 97.79 L330.3 95.99 L330.8 94.23 L331.3 92.49 L331.8 90.8 L332.3 89.13 L332.8 87.49 L333.3 85.89 L333.8 84.31 L334.3 82.76 L334.8 81.24 L335.3 79.75 L335.8 78.28 L336.3 76.83 L336.8 75.41 L337.3 74.01 L337.8 72.63 L338.3 71.27 L338.8 69.93 L339.3 68.61 L339.8 67.31 L340.3 66.02 L340.8 64.75 L341.3 63.49 L341.8 62.25 L342.3 61.01 L342.8 59.79 L343.3 58.58 L343.8 57.38 L344.3 56.19 L344.8 55 L345.3 53.78 L345.8 52.5 L346.3 51.16 L346.8 49.8 L347.3 48.42 L347.8 47.05 L348.3 45.69 L348.8 44.37 L349.3 43.09 L349.8 41.89 L350.3 40.76 L350.8 39.74 L351.3 38.83 L351.8 38.05 L352.3 37.43 L352.8 36.96 L353.3 36.68 L353.8 36.6 L354.3 36.77 L354.8 37.21 L355.3 37.89 L355.8 38.77 L356.3 39.82 L356.8 41.01 L357.3 42.32 L357.8 43.71 L358.3 45.15 L358.8 46.61 L359.3 48.05 L359.8 49.46 L360.3 50.82 L360.8 52.25 L361.3 53.77 L361.8 55.36 L362.3 57.04 L362.8 58.8 L363.3 60.64 L363.8 62.56 L364.3 64.56 L364.8 66.64 L365.3 68.85 L365.8 71.33 L366.3 74.05 L366.8 76.97 L367.3 80.04 L367.8 83.21 L368.3 86.43 L368.8 89.65 L369.3 92.82 L369.8 95.9 L370.3 98.83 L370.8 101.58 L371.3 104.08 L371.8 106.37 L372.3 108.76 L372.8 111.21 L373.3 113.7 L373.8 116.16 L374.3 118.56 L374.8 120.84 L375.3 122.96 L375.8 124.87 L376.3 126.52 L376.8 127.87 L377.3 128.86 L377.8 129.45 L378.3 129.59 L378.8 129.33 L379.3 128.74 L379.8 127.84 L380.3 126.67 L380.8 125.28 L381.3 123.7 L381.8 121.96 L382.3 120.1 L382.8 118.17 L383.3 116.19 L383.8 114.13 L384.3 111.37 L384.8 107.98 L385.3 104.2 L385.8 100.26 L386.3 96.42 L386.8 92.92 L387.3 90 L387.8 87.51 L388.3 85.14 L388.8 82.87 L389.3 80.72 L389.8 78.67 L390.3 76.73 L390.8 74.89 L391.3 73.16 L391.8 71.53 L392.3 70 L392.8 68.48 L393.3 66.91 L393.8 65.32 L394.3 63.76 L394.8 62.25 L395.3 60.83 L395.8 59.54 L396.3 58.42 L396.8 57.5 L397.3 56.81 L397.8 56.41 L398.3 56.31 L398.8 56.48 L399.3 56.9 L399.8 57.54 L400.3 58.39 L400.8 59.41 L401.3 60.61 L401.8 61.95 L402.3 63.42 L402.8 65 L403.3 66.67 L403.8 68.41 L404.3 70.21 L404.8 72.04 L405.3 73.89 L405.8 75.74 L406.3 77.57 L406.8 79.37 L407.3 81.49 L407.8 84.03 L408.3 86.85 L408.8 89.81 L409.3 92.81 L409.8 95.7 L410.3 98.36 L410.8 100.66 L411.3 102.48 L411.8 103.7 L412.3 104.68 L412.8 105.63 L413.3 106.54 L413.8 107.41 L414.3 108.23 L414.8 109 L415.3 109.72 L415.8 110.37 L416.3 110.96 L416.8 111.48 L417.3 111.93 L417.8 112.29 L418.3 112.58 L418.8 112.78 L419.3 112.88 L419.8 112.89 L420.3 112.8 L420.8 112.6 L421.3 112.32 L421.8 111.95 L422.3 111.5 L422.8 110.99 L423.3 110.42 L423.8 109.79 L424.3 109.11 L424.8 108.4 L425.3 107.66 L425.8 106.89 L426.3 106.11 L426.8 105.32 L427.3 104.48 L427.8 103.43 L428.3 102.2 L428.8 100.83 L429.3 99.38 L429.8 97.9 L430.3 96.43 L430.8 95.03 L431.3 93.71 L431.8 92.37 L432.3 90.99 L432.8 89.6 L433.3 88.19 L433.8 86.79 L434.3 85.39 L434.8 84.01 L435.3 82.67 L435.8 81.36 L436.3 80.11 L436.8 78.91 L437.3 77.79 L437.8 76.75 L438.3 75.8 L438.8 74.87 L439.3 73.91 L439.8 72.94 L440.3 71.99 L440.8 71.1 L441.3 70.29 L441.8 69.58 L442.3 69.02 L442.8 68.62 L443.3 68.42 L443.8 68.45 L444.3 68.75 L444.8 69.3 L445.3 70.08 L445.8 71.07 L446.3 72.26 L446.8 73.61 L447.3 75.12 L447.8 76.75 L448.3 78.49 L448.8 80.33 L449.3 82.23 L449.8 84.18 L450.3 86.16 L450.8 88.14 L451.3 90.12 L451.8 92.06 L452.3 93.95 L452.8 95.76 L453.3 97.49 L453.8 99.1 L454.3 100.57 L454.8 101.89 L455.3 103.04 L455.8 103.99 L456.3 104.73 L456.8 105.23 L457.3 105.48 L457.8 105.44 L458.3 105.06 L458.8 104.38 L459.3 103.42 L459.8 102.21 L460.3 100.78 L460.8 99.16 L461.3 97.39 L461.8 95.5 L462.3 93.5 L462.8 91.45 L463.3 89.36 L463.8 87.27 L464.3 85.2 L464.8 83.2 L465.3 81.28 L465.8 79.48 L466.3 77.83 L466.8 76.36 L467.3 75.11 L467.8 74.09 L468.3 73.35 L468.8 72.91 L469.3 72.81 L469.8 73 L470.3 73.46 L470.8 74.16 L471.3 75.07 L471.8 76.17 L472.3 77.44 L472.8 78.85 L473.3 80.37 L473.8 81.99 L474.3 83.67 L474.8 85.4 L475.3 87.15 L475.8 88.89 L476.3 90.61 L476.8 92.27 L477.3 93.85 L477.8 95.33 L478.3 96.68 L478.8 97.89 L479.3 98.92 L479.8 99.75 L480.3 100.35 L480.8 100.71 L481.3 100.8 L481.8 100.73 L482.3 100.57 L482.8 100.3 L483.3 99.95 L483.8 99.49 L484.3 98.94 L484.8 98.29 L485.3 97.54 L485.8 96.7 L486.3 95.76 L486.8 94.72 L487.3 93.59 L487.8 92.35 L488.3 91.03 L488.8 89.6 L489.3 88.08 L489.8 86.46 L490.3 84.74 L490.8 82.93 L491.3 81.01 L491.8 79.01 L492.3 76.9" stroke="#000" stroke-width="2.9" fill="none" stroke-linejoin="round" stroke-linecap="round"/>
<rect x="319.7" y="19" width="2.1" height="1.5" fill="#000"/>
<text x="329.8" y="22.9" text-anchor="start" font-size="8.8">Sunspot-Model6</text>
<path d="M404.8 19.6 H420" stroke="#000" stroke-width="2.9" stroke-linecap="round"/>
<text x="422.7" y="22.9" text-anchor="start" font-size="8.8">Precipitation Model6</text>
<text x="412.8" y="233" text-anchor="middle" font-size="12" fill="#000">(<tspan font-weight="bold">b</tspan>)</text></svg>
</body></html>
